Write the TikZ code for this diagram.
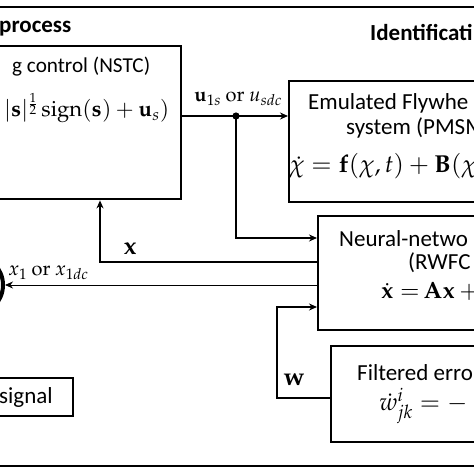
\documentclass[tikz,border=0pt]{standalone}
\usepackage{amsmath}
\usepackage{mathpazo}
\usepackage[no-math]{fontspec}
\setmainfont{Carlito}
\usetikzlibrary{arrows.meta}
\begin{document}
\begin{tikzpicture}[x=1pt,y=-1pt,
  box/.style={draw=black,line width=2.4pt,fill=none,inner sep=0pt,anchor=north west},
  conn/.style={draw=black,line width=2pt},
  thin/.style={draw=black,line width=0.9pt},
  tip/.style={-{Stealth[length=8pt,width=7pt]}},
  txt/.style={inner sep=0pt,anchor=west,font=\fontsize{23}{27}\selectfont},
  btxt/.style={txt,font=\fontsize{23}{27}\selectfont\bfseries},
  mth/.style={inner sep=0pt,anchor=west,font=\fontsize{22}{26}\selectfont},
  bmth/.style={mth,font=\fontsize{24.5}{28}\selectfont},
  lbl/.style={inner sep=0pt,font=\fontsize{20}{24}\selectfont},
  blbl/.style={inner sep=0pt,font=\fontsize{25}{28}\selectfont}]
\useasboundingbox (0,0) rectangle (474,474);
% outer frame
\draw[line width=2.4pt] (-20,7) rectangle (494,466);
% group titles
\node[btxt] (tproc) at (-1,29) {process};
\node[btxt] (tid) at (370,32) {Identificati};
% boxes
\node[box,minimum width=240pt,minimum height=153pt] (nstc) at (-60,45) {};
\node[box,minimum width=240pt,minimum height=121pt] (emu) at (288,80) {};
\node[box,minimum width=210pt,minimum height=114pt] (nn) at (317,215) {};
\node[box,minimum width=200pt,minimum height=96pt] (filt) at (330,345) {};
\node[box,minimum width=132pt,minimum height=38pt] (sig) at (-60,377) {};
\node[circle,draw=black,line width=4pt,minimum size=60pt,inner sep=0pt] (sum) at (-27,285) {};
% box texts
\node[txt,font=\fontsize{21.2}{25}\selectfont] (t1) at (12,67) {g control (NSTC)};
\node[mth] (m1) at (4,108) {$|\mathbf{s}|^{\frac{1}{2}}\operatorname{sign}(\mathbf{s})+\mathbf{u}_s)$};
\node[txt] (t2) at (308,103) {Emulated Flywhe};
\node[txt] (t3) at (346,128) {system (PMSM};
\node[bmth] (m2) at (289,166) {$\dot{\chi}=\mathbf{f}(\chi,t)+\mathbf{B}(\chi$};
\node[txt] (t4) at (339,239) {Neural-netwo};
\node[txt] (t5) at (408,263) {(RWFC};
\node[mth,font=\fontsize{23.5}{27}\selectfont] (m3) at (381,291) {$\dot{\mathbf{x}}\;{=}\,\mathbf{A}\mathbf{x}+{}$};
\node[txt] (t6) at (357,373) {Filtered erro};
\node[bmth] (m4) at (379,406) {$\dot{w}^{i}_{jk}=-$};
\node[txt] (t7) at (-1,397) {signal};
% junction
\coordinate (j1) at (236,116);
\fill (j1) circle (3.6pt);
% connectors
\draw[conn] (nstc.east |- j1) -- (j1);
\draw[conn,tip] (j1) -- (emu.west |- j1);
\draw[conn,tip] (j1) |- (nn.west |- 0,238);
\draw[conn,tip] (nn.west |- 0,262) -| (100,0 |- nstc.south);
\draw[thin,tip] (nn.west |- 0,285) -- (sum.east);
\draw[conn,tip] (filt.west |- 0,398) -- (277,398) |- (nn.west |- 0,307);
% labels
\node[lbl,anchor=south] (lu) at (238,106) {$\mathbf{u}_{1s}\ \mathrm{or}\ u_{sdc}$};
\node[lbl,anchor=west] (lx1) at (8,273) {$x_{1}\ \mathrm{or}\ x_{1dc}$};
\node[blbl] (lx) at (130,249) {$\mathbf{x}$};
\node[blbl] (lw) at (294,380) {$\mathbf{w}$};
\end{tikzpicture}
\end{document}
